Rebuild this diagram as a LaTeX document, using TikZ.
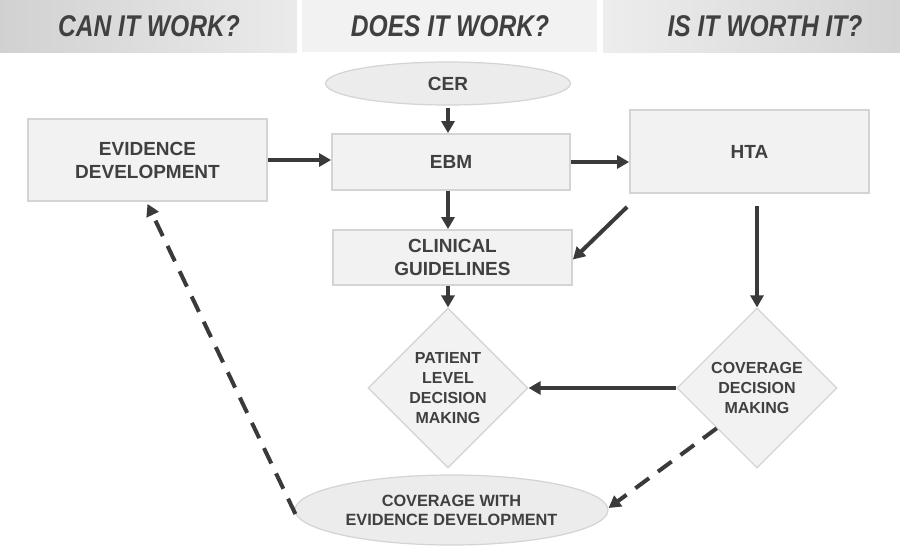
\documentclass[tikz,border=0pt]{standalone}
\usepackage{fontspec}
\setmainfont{Liberation Sans}
\usetikzlibrary{shapes.geometric,arrows.meta,calc}
\definecolor{txt}{HTML}{404040}
\definecolor{boxfill}{HTML}{F2F2F2}
\definecolor{boxline}{HTML}{D4D4D4}
\definecolor{arr}{HTML}{3A3A3A}
\tikzset{
  rbox/.style={rectangle,draw=boxline,line width=1.8pt,fill=boxfill,text=txt,align=center,inner sep=0pt,font=\bfseries\fontsize{19}{23}\selectfont},
  ell/.style={ellipse,draw=boxline,line width=1.2pt,fill=boxfill!95!gray,text=txt,align=center,inner sep=0pt},
  dia/.style={diamond,draw=boxline,line width=1.2pt,fill=boxfill,text=txt,align=center,inner sep=0pt,minimum width=160pt,minimum height=160pt,font=\bfseries\fontsize{16}{20}\selectfont},
  conn/.style={draw=arr,line width=4pt,-{Triangle[length=12pt,width=13pt]}},
  dconn/.style={conn,dash pattern=on 17pt off 11pt},
  hdr/.style={text=txt,font=\bfseries\itshape\fontsize{30}{30}\selectfont},
}
\begin{document}
\begin{tikzpicture}[x=1pt,y=-1pt]
\useasboundingbox (0,0) rectangle (900,547);
\fill[white] (0,0) rectangle (900,547);
% header bands
\shade[left color=black!18,right color=black!8] (0,0) rectangle (297,52);
\fill[black!5] (302,0) rectangle (597,52);
\shade[left color=black!7,right color=black!17] (603,0) rectangle (900,52);
\node[hdr] (h1) at (149,26) {\scalebox{0.82}[1]{CAN IT WORK?}};
\node[hdr] (h2) at (450,26) {\scalebox{0.82}[1]{DOES IT WORK?}};
\node[hdr] (h3) at (765,26) {\scalebox{0.82}[1]{IS IT WORTH IT?}};
% nodes
\node[ell,minimum width=245pt,minimum height=43pt,font=\bfseries\fontsize{19}{23}\selectfont] (cer) at (448,83.5) {CER};
\node[rbox,minimum width=239pt,minimum height=82pt] (evd) at (147.5,160) {EVIDENCE\\DEVELOPMENT};
\node[rbox,minimum width=238pt,minimum height=56pt] (ebm) at (451,162) {EBM};
\node[rbox,minimum width=239pt,minimum height=83pt] (hta) at (749.5,151.5) {HTA};
\node[rbox,minimum width=239pt,minimum height=55pt] (cg) at (452.5,257.5) {CLINICAL\\GUIDELINES};
\node[dia] (pldm) at (448,388) {PATIENT\\LEVEL\\DECISION\\MAKING};
\node[dia] (cdm) at (757,388) {COVERAGE\\DECISION\\MAKING};
\node[ell,minimum width=313pt,minimum height=70pt,font=\bfseries\fontsize{16.3}{19}\selectfont] (cwed) at (451.5,510) {COVERAGE WITH\\EVIDENCE DEVELOPMENT};
% connectors
\draw[conn] (evd.east) -- (ebm.west|-evd.east);
\draw[conn] (ebm.east) -- (hta.west|-ebm.east);
\draw[conn] ($(cer.south)+(0,2)$) -- (ebm.north-|cer.south);
\draw[conn] ($(ebm.south)+(-3,0)$) -- ($(cg.north)+(-4.5,0)$);
\draw[conn] ($(hta.south west)+(-2,13)$) -- ($(cg.east)+(0,2)$);
\draw[conn] ($(cg.south)+(-4.5,0)$) -- (pldm.north);
\draw[conn] ($(hta.south)+(7.5,12)$) -- (cdm.north);
\draw[conn] (cdm.west) -- (pldm.east);
\draw[dconn] (cdm.south west) -- ($(cwed.east)+(0,-2)$);
\draw[dconn] ($(cwed.west)+(1,4)$) -- ($(evd.south)+(0,2)$);
\end{tikzpicture}
\end{document}
